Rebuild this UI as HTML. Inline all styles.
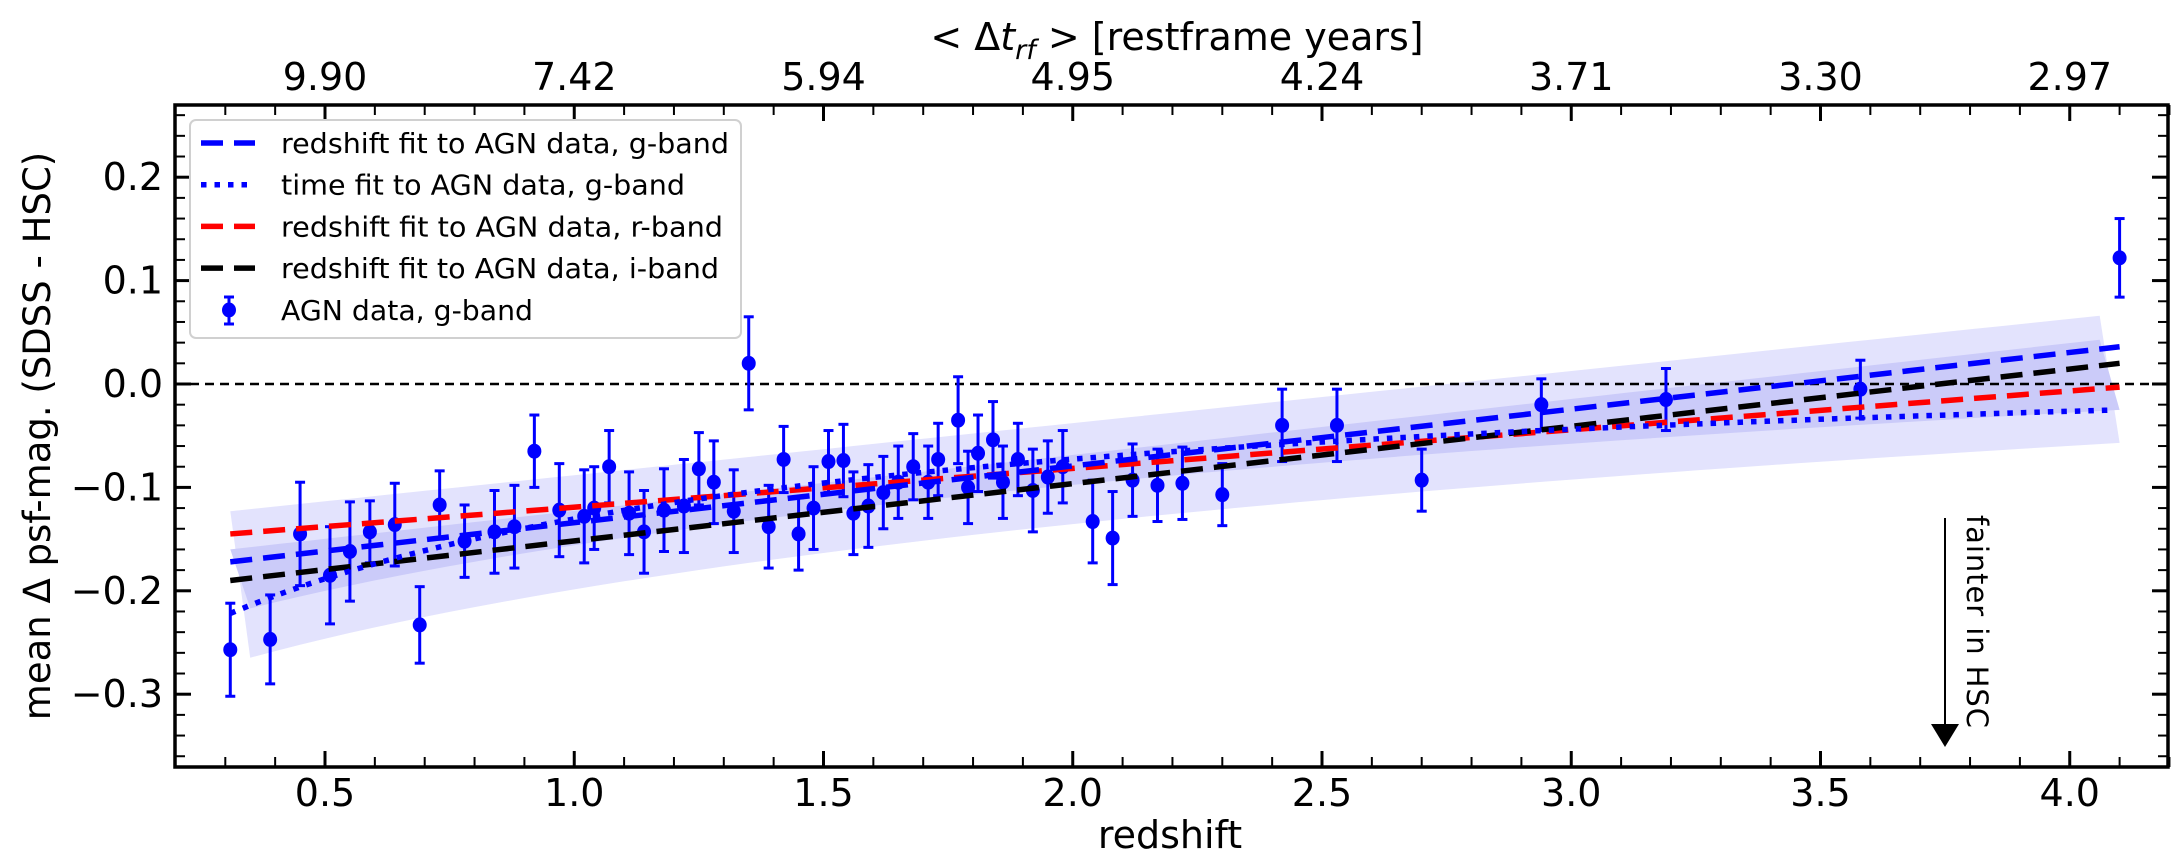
<!DOCTYPE html>
<html><head><meta charset="utf-8"><style>html,body{margin:0;padding:0;background:#fff;overflow:hidden}svg{display:block}text{font-family:"DejaVu Sans","Liberation Sans",sans-serif}</style></head>
<body>
<svg id="s" width="2171" height="853" viewBox="0 0 2171 853" xmlns="http://www.w3.org/2000/svg"></svg>
<script>
var S=document.getElementById('s');var NS='http://www.w3.org/2000/svg';
function X(z){return 325+(z-0.5)*498.5}
function Y(v){return 384-1034*v}
function el(t,a,txt){var e=document.createElementNS(NS,t);for(var k in a)e.setAttribute(k,a[k]);if(txt!==undefined)e.textContent=txt;S.appendChild(e);return e}
var L=175,R=2168,T=105,B=767;
function band(up,lo,fill){var p=[],z;for(z=0.31;z<=4.1001;z+=0.05)p.push(X(z).toFixed(1)+','+Y(up(z)).toFixed(1));for(z=4.1;z>=0.3099;z-=0.05)p.push(X(z).toFixed(1)+','+Y(lo(z)).toFixed(1));el('polygon',{points:p.join(' '),fill:fill})}
band(function(z){return -0.123+(0.068+0.123)*(z-0.31)/3.79},function(z){return -0.27+0.213*Math.log(1+z-0.31)/Math.log(4.79)},'#e3e3fd');
band(function(z){return -0.16+(0.045+0.16)*(z-0.31)/3.79},function(z){return -0.222+0.197*Math.log(1+z-0.31)/Math.log(4.79)},'#cbcbf9');
el('line',{x1:L,x2:R,y1:Y(0),y2:Y(0),stroke:'#000','stroke-width':2.5,'stroke-dasharray':'9,6'});
var d=[[0.31,-0.257,0.045],[0.39,-0.247,0.043],[0.45,-0.145,0.05],[0.51,-0.185,0.047],[0.55,-0.162,0.048],[0.59,-0.143,0.03],[0.64,-0.136,0.04],[0.69,-0.233,0.037],[0.73,-0.117,0.033],[0.78,-0.152,0.035],[0.84,-0.143,0.04],[0.88,-0.138,0.04],[0.92,-0.065,0.035],[0.97,-0.122,0.045],[1.02,-0.128,0.045],[1.04,-0.12,0.04],[1.07,-0.080,0.035],[1.11,-0.125,0.04],[1.14,-0.143,0.04],[1.18,-0.122,0.04],[1.22,-0.118,0.045],[1.25,-0.082,0.035],[1.28,-0.095,0.04],[1.32,-0.123,0.04],[1.35,0.02,0.045],[1.39,-0.138,0.04],[1.42,-0.073,0.032],[1.45,-0.145,0.035],[1.48,-0.12,0.04],[1.51,-0.075,0.03],[1.54,-0.074,0.035],[1.56,-0.125,0.04],[1.59,-0.118,0.04],[1.62,-0.105,0.035],[1.65,-0.095,0.035],[1.68,-0.080,0.032],[1.71,-0.095,0.035],[1.73,-0.073,0.035],[1.77,-0.035,0.042],[1.79,-0.1,0.035],[1.81,-0.067,0.037],[1.84,-0.054,0.037],[1.86,-0.095,0.035],[1.89,-0.073,0.035],[1.92,-0.103,0.04],[1.95,-0.09,0.035],[1.98,-0.08,0.035],[2.04,-0.133,0.04],[2.08,-0.149,0.045],[2.12,-0.093,0.035],[2.17,-0.098,0.035],[2.22,-0.096,0.035],[2.30,-0.107,0.03],[2.42,-0.04,0.035],[2.53,-0.04,0.035],[2.70,-0.093,0.03],[2.94,-0.02,0.025],[3.19,-0.015,0.03],[3.58,-0.005,0.028],[4.10,0.122,0.038]];
d.forEach(function(p){var x=X(p[0]),y1=Y(p[1]+p[2]),y2=Y(p[1]-p[2]);
el('line',{x1:x,x2:x,y1:y1,y2:y2,stroke:'#0000ff','stroke-width':3});
el('line',{x1:x-5,x2:x+5,y1:y1,y2:y1,stroke:'#0000ff','stroke-width':3});
el('line',{x1:x-5,x2:x+5,y1:y2,y2:y2,stroke:'#0000ff','stroke-width':3});
el('ellipse',{cx:x,cy:Y(p[1]),rx:7,ry:7.5,fill:'#0000ff'});});
function lin(a,b,col,dash){el('line',{x1:X(0.31),y1:Y(a),x2:X(4.1),y2:Y(b),stroke:col,'stroke-width':5.5,'stroke-dasharray':dash})}
lin(-0.145,-0.003,'#ff0000','22,11');
lin(-0.19,0.02,'#000000','22,11');
lin(-0.172,0.036,'#0000ff','22,11');
var pts=[];for(var z=0.31;z<=4.1001;z+=0.02){pts.push(X(z).toFixed(1)+','+Y(0.043-0.347/(1+z)).toFixed(1))}
el('polyline',{points:pts.join(' '),fill:'none',stroke:'#0000ff','stroke-width':5.5,'stroke-dasharray':'5.5,8'});
el('rect',{x:L,y:T,width:R-L,height:B-T,fill:'none',stroke:'#000','stroke-width':3.5});
for(var i=0;i<=40;i++){var z=0.2+i*0.1,x=X(z);var maj=(Math.abs((z*2)-Math.round(z*2))<1e-6);var len=maj?16:10;
el('line',{x1:x,x2:x,y1:B,y2:B-len,stroke:'#000','stroke-width':maj?3:2});
el('line',{x1:x,x2:x,y1:T,y2:T+len,stroke:'#000','stroke-width':maj?3:2});}
for(var i=-18;i<=13;i++){var v=i*0.02,y=Y(v);if(y<T-1||y>B+1)continue;var maj=(i%5==0);var len=maj?16:10;
el('line',{x1:L,x2:L+len,y1:y,y2:y,stroke:'#000','stroke-width':maj?3:2});
el('line',{x1:R,x2:R-len,y1:y,y2:y,stroke:'#000','stroke-width':maj?3:2});}
['0.5','1.0','1.5','2.0','2.5','3.0','3.5','4.0'].forEach(function(s){el('text',{x:X(+s),y:806,'font-size':38,'text-anchor':'middle'},s)});
var tl=['9.90','7.42','5.94','4.95','4.24','3.71','3.30','2.97'];
tl.forEach(function(s,i){el('text',{x:X(0.5+0.5*i),y:90,'font-size':38,'text-anchor':'middle'},s)});
[['0.2',0.2],['0.1',0.1],['0.0',0],['\u22120.1',-0.1],['\u22120.2',-0.2],['\u22120.3',-0.3]].forEach(function(p){el('text',{x:163,y:Y(p[1])+13,'font-size':38,'text-anchor':'end'},p[0])});
el('text',{x:1170,y:848,'font-size':38,'text-anchor':'middle'},'redshift');
el('text',{x:0,y:0,'font-size':37,'text-anchor':'middle',transform:'translate(50,436) rotate(-90)'},'mean \u0394 psf-mag. (SDSS - HSC)');
var t=el('text',{x:1177,y:50,'font-size':38,'text-anchor':'middle'});
t.innerHTML='&lt; \u0394<tspan font-style="italic">t</tspan><tspan font-style="italic" font-size="27" dy="9">rf</tspan><tspan dy="-9"> &gt;  [restframe years]</tspan>';
el('line',{x1:1945,x2:1945,y1:518,y2:726,stroke:'#000','stroke-width':2});
el('polygon',{points:'1931,724 1959,724 1945,747',fill:'#000'});
el('text',{x:0,y:0,'font-size':29,'text-anchor':'start',textLength:213,transform:'translate(1967,515) rotate(90)'},'fainter in HSC');
el('rect',{x:190,y:120,width:551,height:218,rx:6,fill:'#fff','fill-opacity':0.85,stroke:'#d0d0d0','stroke-width':2});
var le=[['#0000ff','22,11','redshift fit to AGN data, g-band',448],['#0000ff','5.5,8','time fit to AGN data, g-band',404],['#ff0000','22,11','redshift fit to AGN data, r-band',442],['#000000','22,11','redshift fit to AGN data, i-band',438]];
le.forEach(function(p,i){var y=143+i*41.7;el('line',{x1:201,x2:255,y1:y,y2:y,stroke:p[0],'stroke-width':5.5,'stroke-dasharray':p[1]});el('text',{x:281,y:y+10,'font-size':28,textLength:p[3],lengthAdjust:'spacingAndGlyphs'},p[2])});
el('line',{x1:229,x2:229,y1:297,y2:324,stroke:'#0000ff','stroke-width':3});
el('line',{x1:224,x2:234,y1:297,y2:297,stroke:'#0000ff','stroke-width':3});
el('line',{x1:224,x2:234,y1:324,y2:324,stroke:'#0000ff','stroke-width':3});
el('ellipse',{cx:229,cy:310,rx:7,ry:7.5,fill:'#0000ff'});
el('text',{x:281,y:320,'font-size':28,textLength:252,lengthAdjust:'spacingAndGlyphs'},'AGN data, g-band');
</script>
</body></html>
